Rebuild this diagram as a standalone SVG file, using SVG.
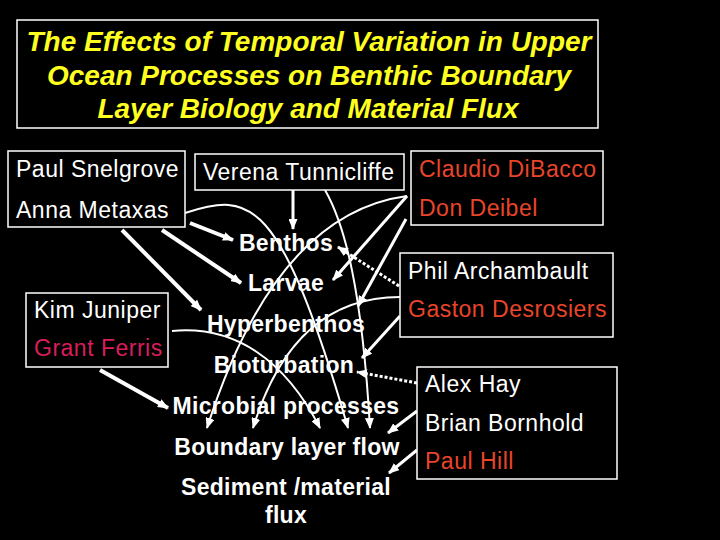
<svg xmlns="http://www.w3.org/2000/svg" width="720" height="540" viewBox="0 0 720 540">
<defs>
<marker id="ah" markerUnits="userSpaceOnUse" markerWidth="11" markerHeight="9" refX="10" refY="4.5" orient="auto">
<path d="M0,0 L11,4.5 L0,9 z" fill="#fff"/>
</marker>
<style>
.box{fill:#000;stroke:#fff;stroke-width:1.5}
.nm{font-family:"Liberation Sans",Arial,sans-serif;font-size:23px;letter-spacing:0.5px;fill:#fff}
.red{fill:#e8452a}
.pink{fill:#d81e5b}
.lbl{font-family:"Liberation Sans",Arial,sans-serif;font-size:23px;font-weight:bold;letter-spacing:0.3px;fill:#fff;text-anchor:middle}
.ttl{font-family:"Liberation Sans",Arial,sans-serif;font-size:27px;font-weight:bold;font-style:italic;fill:#ffff20;text-anchor:middle}
.c{fill:none;stroke:#fff;marker-end:url(#ah)}
.t2{stroke-width:2}
.t3{stroke-width:3}
.t4{stroke-width:4}
.dot{stroke-dasharray:3 2}
</style>
</defs>
<rect width="720" height="540" fill="#000"/>
<g id="title">
<rect class="box" x="17" y="20" width="581" height="108"/>
<text class="ttl" x="309" y="51" textLength="565" lengthAdjust="spacingAndGlyphs">The Effects of Temporal Variation in Upper</text>
<text class="ttl" x="309" y="85" textLength="524" lengthAdjust="spacingAndGlyphs">Ocean Processes on Benthic Boundary</text>
<text class="ttl" x="308" y="118" textLength="421" lengthAdjust="spacingAndGlyphs">Layer Biology and Material Flux</text>
</g>
<g id="connectors">
<path class="c t3" d="M293,190 L293,229"/>
<path class="c t4" d="M190,223 L233,240"/>
<path class="c t4" d="M162,230 L241,283"/>
<path class="c t4" d="M122,230 L201,310"/>
<path class="c t2" d="M185,213 C250,192 280,195 348,428"/>
<path class="c t2" d="M407,196 C340,205 262,255 207,428"/>
<path class="c t2" d="M325,190 C345,225 362,290 370,428"/>
<path class="c t2" d="M400,297 C330,297 280,340 253,428"/>
<path class="c t2" d="M172,331 C235,325 285,360 320,428"/>
<path class="c t3" d="M407,196 L333,280"/>
<path class="c t3" d="M406,219 L358,306"/>
<path class="c t3" d="M400,316 L362,358"/>
<path class="c t4" d="M100,370 L168,408"/>
<path class="c t3" d="M417,411 L388,433"/>
<path class="c t3" d="M417,450 L389,473"/>
<path class="c t3 dot" d="M399,286 L338,247"/>
<path class="c t3 dot" d="M417,383 L357,372"/>
</g>
<g id="snelgrove">
<rect class="box" x="8" y="151" width="177" height="76"/>
<text class="nm" x="16" y="177">Paul Snelgrove</text>
<text class="nm" x="16" y="218">Anna Metaxas</text>
</g>
<g id="tunnicliffe">
<rect class="box" x="195" y="154" width="209" height="36"/>
<text class="nm" x="203" y="180">Verena Tunnicliffe</text>
</g>
<g id="dibacco">
<rect class="box" x="411" y="151" width="192" height="74"/>
<text class="nm red" x="419" y="177">Claudio DiBacco</text>
<text class="nm red" x="419" y="216">Don Deibel</text>
</g>
<g id="archambault">
<rect class="box" x="400" y="253" width="213" height="84"/>
<text class="nm" x="408" y="279">Phil Archambault</text>
<text class="nm red" x="408" y="317">Gaston Desrosiers</text>
</g>
<g id="juniper">
<rect class="box" x="26" y="293" width="142" height="74"/>
<text class="nm" x="34" y="318">Kim Juniper</text>
<text class="nm pink" x="34" y="356">Grant Ferris</text>
</g>
<g id="hay">
<rect class="box" x="417" y="367" width="200" height="112"/>
<text class="nm" x="425" y="392">Alex Hay</text>
<text class="nm" x="425" y="431">Brian Bornhold</text>
<text class="nm red" x="425" y="469">Paul Hill</text>
</g>
<g id="benthos"><text class="lbl" x="286" y="251">Benthos</text></g>
<g id="larvae"><text class="lbl" x="286" y="291">Larvae</text></g>
<g id="hyperbenthos"><text class="lbl" x="286" y="332">Hyperbenthos</text></g>
<g id="bioturbation"><text class="lbl" x="284" y="373">Bioturbation</text></g>
<g id="microbial"><text class="lbl" x="286" y="414">Microbial processes</text></g>
<g id="blflow"><text class="lbl" x="287" y="455">Boundary layer flow</text></g>
<g id="sediment"><text class="lbl" x="286" y="495">Sediment /material</text><text class="lbl" x="286" y="523">flux</text></g>
</svg>
